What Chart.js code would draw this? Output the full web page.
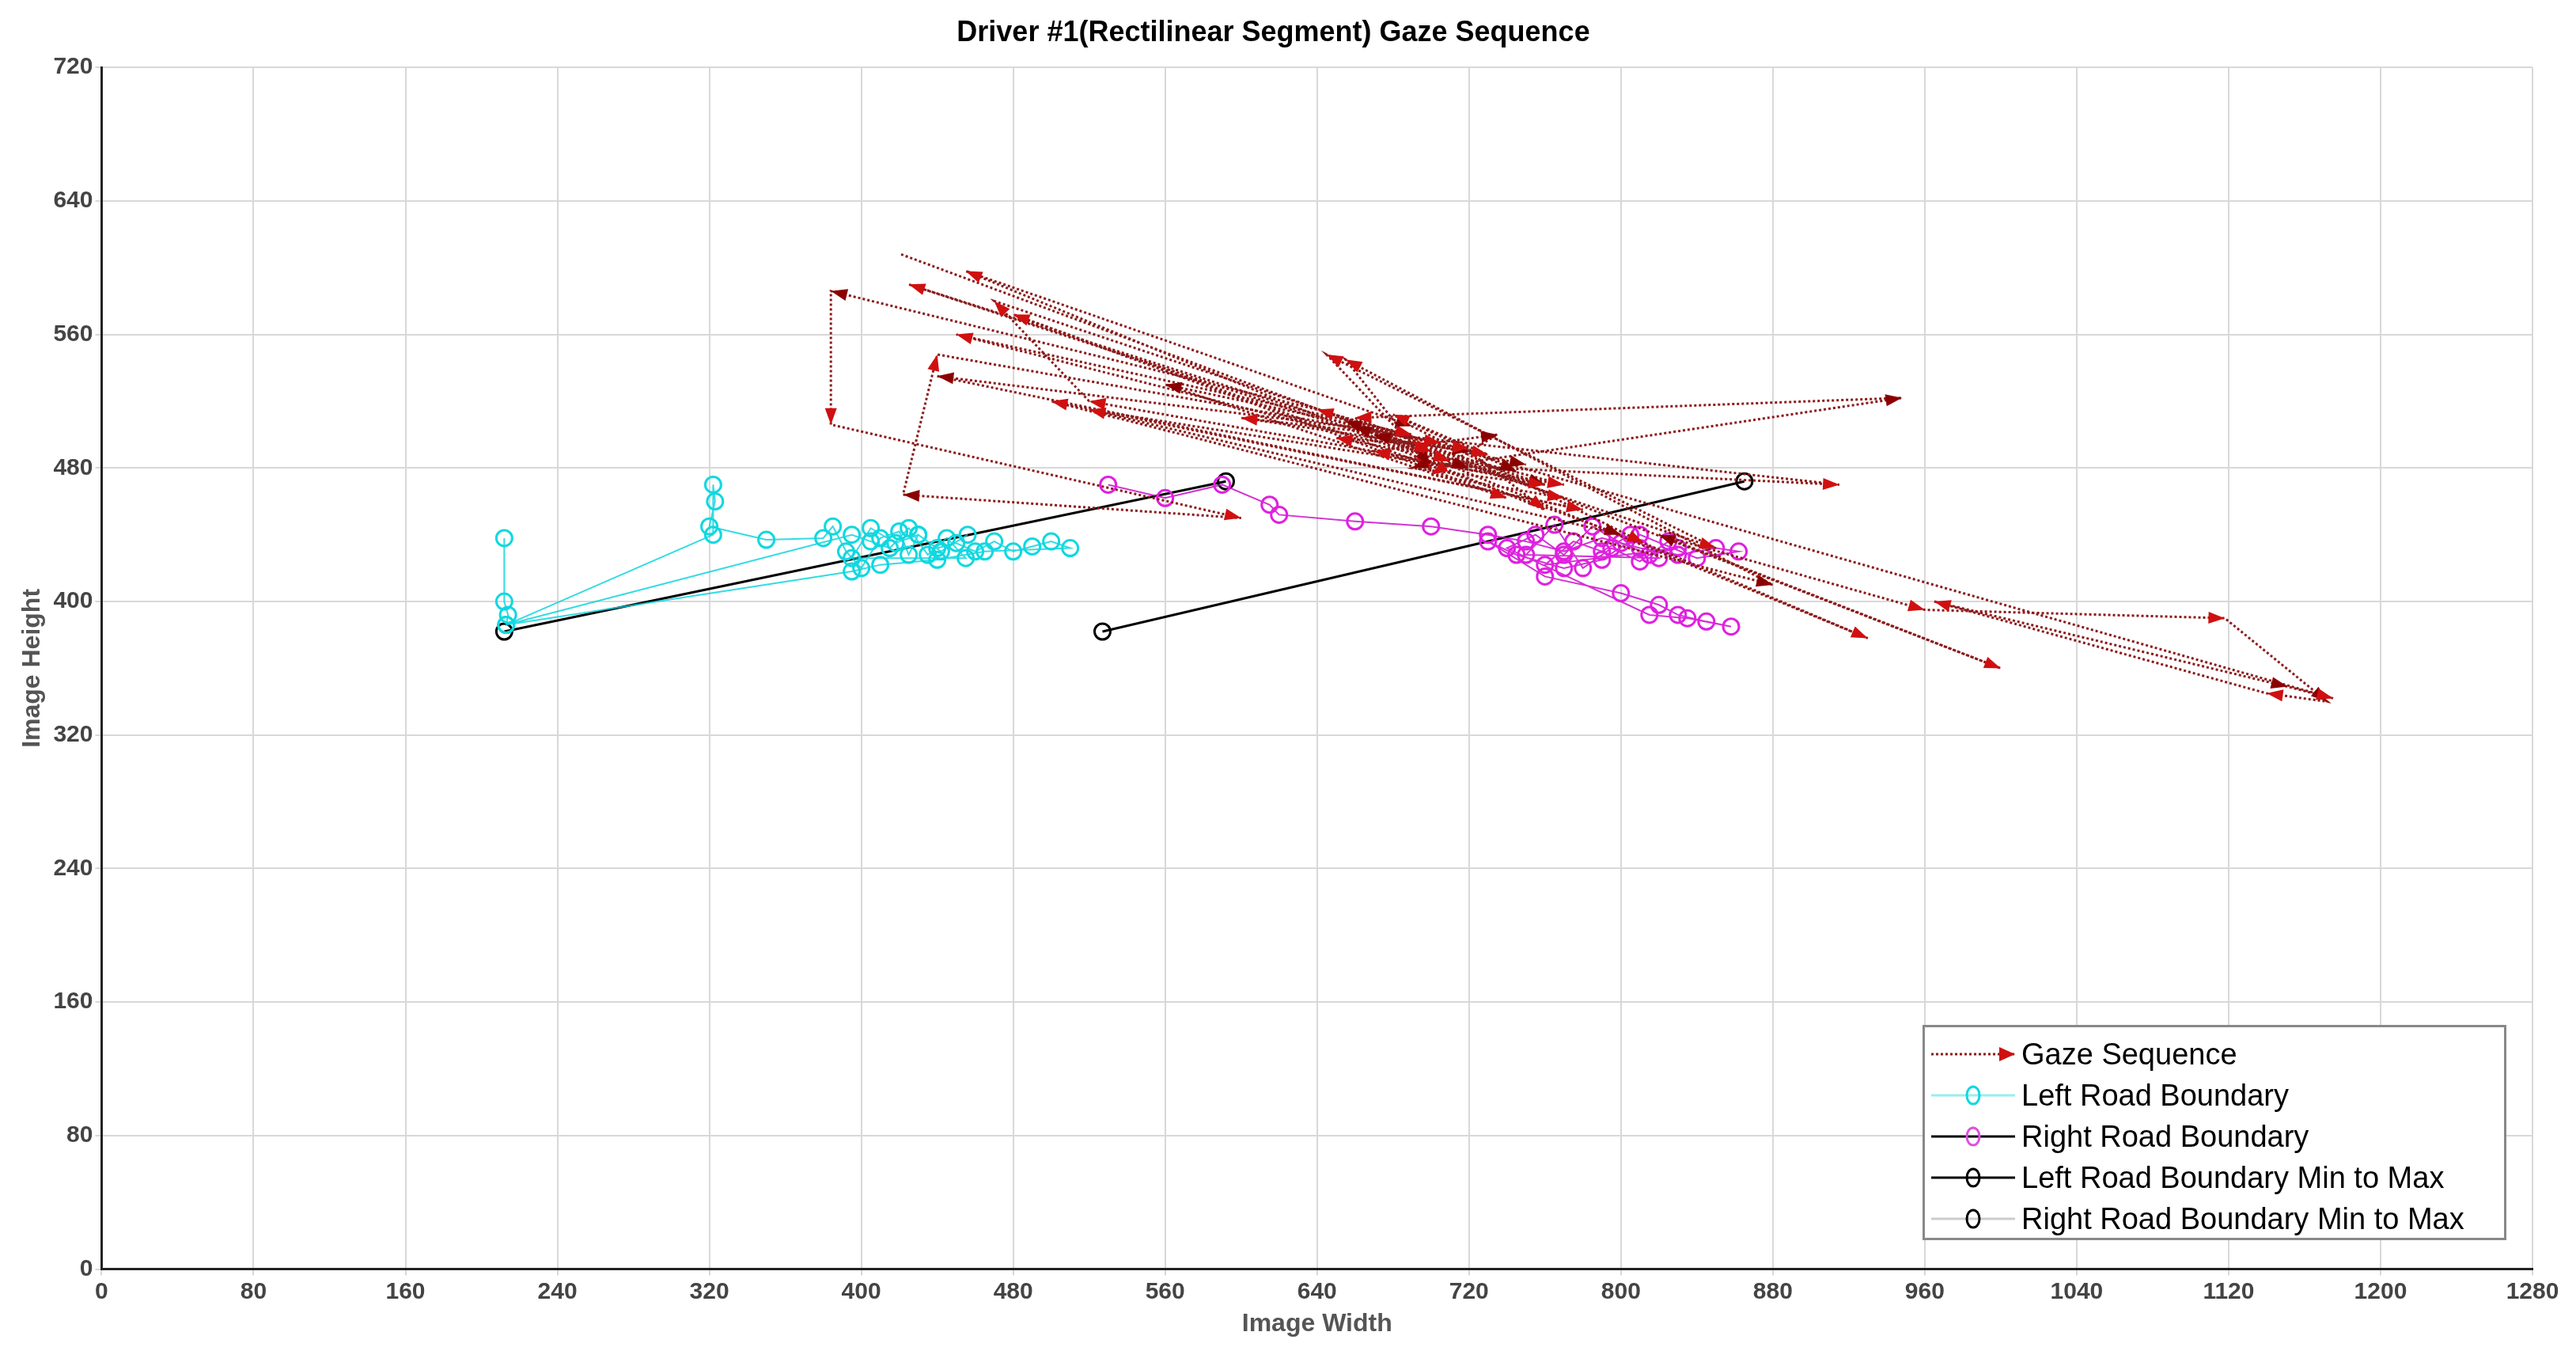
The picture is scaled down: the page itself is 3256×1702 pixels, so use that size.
<!DOCTYPE html>
<html><head><meta charset="utf-8">
<script src="https://cdn.jsdelivr.net/npm/chart.js@4.4.0/dist/chart.umd.min.js"></script>
<style>
body{margin:0;background:#fff;font-family:"Liberation Sans",Arial,sans-serif}
#wrap{position:relative;width:3256px;height:1702px}
#legend{position:absolute;left:2430px;top:1295px;width:738px;height:272px;border:3px solid #888;background:#fff;font-size:38px;color:#000;padding-top:8px;box-sizing:border-box}
#legend div{height:52px;display:flex;align-items:center}
#legend canvas{margin:0 6px 0 6px}
</style></head><body>
<div id="wrap"><canvas id="myChart" width="3256" height="1702"></canvas>
<div id="legend"></div></div>
<script>
// gaze sequence (image coords)
var gazeX = [421, 700, 425, 720, 520, 470, 760, 450, 690, 440, 780, 500, 880, 655, 700, 948, 660, 1000, 820, 960, 1118, 1172, 1140, 965, 1151, 1175,
  640, 384, 384, 600, 422, 440, 705, 560, 740, 480, 800, 520, 770, 670, 850, 645, 700, 915, 600, 720, 760, 455, 690, 812, 930,
  660, 730, 680, 745, 650, 720, 690, 760, 670, 735, 700, 770, 655, 710, 690, 750];
var gazeY = [608, 490, 590, 480, 520, 580, 470, 560, 500, 535, 455, 520, 410, 545, 480, 522, 510, 360, 440, 395, 390, 340, 345, 400, 349, 342,
  515, 586, 506, 450, 464, 548, 495, 530, 462, 572, 440, 515, 470, 500, 432, 548, 482, 470, 510, 490, 455, 598, 505, 435, 378,
  505, 488, 512, 478, 498, 492, 480, 470, 490, 500, 476, 462, 508, 484, 496, 482];
var leftX = [212, 212, 214, 213, 322, 322, 323, 320, 350, 380, 385, 392, 400, 410, 420, 425, 430, 440, 450, 460, 470, 480, 490, 500, 510, 465, 440, 410, 395, 213,
  395, 405, 415, 425, 435, 445, 455, 395, 405, 418, 430, 442, 456];
var leftY = [438, 400, 392, 386, 440, 470, 460, 445, 437, 438, 445, 430, 420, 438, 442, 428, 440, 432, 435, 430, 436, 430, 433, 436, 432, 430, 425, 422, 418, 386,
  440, 436, 432, 444, 428, 438, 426, 426, 444, 435, 440, 430, 440];
var rightX = [530, 560, 590, 615, 620, 660, 700, 730, 750, 770, 790, 810, 830, 850, 862, 840, 810, 790, 770, 745, 730, 760, 800, 820, 830, 845, 858, 835, 815,
  740, 755, 770, 785, 800, 815, 830, 760, 775, 790, 805, 820, 750, 765, 780, 795, 810, 825];
var rightY = [470, 462, 470, 458, 452, 448, 445, 440, 436, 430, 438, 432, 428, 432, 430, 426, 440, 425, 420, 428, 436, 415, 405, 398, 392, 388, 385, 390, 392,
  432, 440, 428, 445, 435, 428, 432, 422, 436, 430, 440, 426, 428, 446, 420, 432, 424, 436];
var lminX = [212, 592], lminY = [382, 472];
var rminX = [527, 865], rminY = [382, 472];
var xTicks = [0, 80, 160, 240, 320, 400, 480, 560, 640, 720, 800, 880, 960, 1040, 1120, 1200, 1280];

function pts(xs, ys) { return xs.map(function (x, i) { return {x: x, y: ys[i]}; }); }

var arrows = {
  id: 'arrows',
  afterDatasetsDraw: function (chart) {
    var meta = chart.getDatasetMeta(0), c = chart.ctx;
    c.save();
    for (var i = 1; i < meta.data.length; i++) {
      var a = meta.data[i - 1], b = meta.data[i];
      var ang = Math.atan2(b.y - a.y, b.x - a.x);
      c.fillStyle = i % 3 ? '#d01010' : '#8b0000';
      c.beginPath();
      c.moveTo(b.x, b.y);
      c.lineTo(b.x - 22 * Math.cos(ang - 0.35), b.y - 22 * Math.sin(ang - 0.35));
      c.lineTo(b.x - 22 * Math.cos(ang + 0.35), b.y - 22 * Math.sin(ang + 0.35));
      c.closePath();
      c.fill();
    }
    c.restore();
  }
};

var tickFont = {size: 30, weight: 'bold', family: 'Liberation Sans'};
var ctx = document.getElementById('myChart').getContext('2d');
var myChart = new Chart(ctx, {
  type: 'scatter',
  data: {
    datasets: [{
      label: 'Gaze Sequence', data: pts(gazeX, gazeY), showLine: true,
      borderColor: '#8b1a1a', borderWidth: 3, borderDash: [3, 3], pointRadius: 0
    }, {
      label: 'Left Road Boundary', data: pts(leftX, leftY), showLine: true,
      borderColor: 'rgba(0,210,220,0.8)', borderWidth: 2, pointRadius: 10, pointBorderWidth: 3,
      pointBorderColor: '#10d8e0', pointBackgroundColor: 'rgba(0,0,0,0)'
    }, {
      label: 'Right Road Boundary', data: pts(rightX, rightY), showLine: true,
      borderColor: 'rgba(200,0,200,0.8)', borderWidth: 2, pointRadius: 10, pointBorderWidth: 3,
      pointBorderColor: '#e020e0', pointBackgroundColor: 'rgba(0,0,0,0)'
    }, {
      label: 'Left Road Boundary Min to Max', data: pts(lminX, lminY), showLine: true,
      borderColor: '#000', borderWidth: 3, pointRadius: 10, pointBorderWidth: 3,
      pointBorderColor: '#000', pointBackgroundColor: 'rgba(0,0,0,0)'
    }, {
      label: 'Right Road Boundary Min to Max', data: pts(rminX, rminY), showLine: true,
      borderColor: '#000', borderWidth: 3, pointRadius: 10, pointBorderWidth: 3,
      pointBorderColor: '#000', pointBackgroundColor: 'rgba(0,0,0,0)'
    }]
  },
  plugins: [arrows],
  options: {
    responsive: false, animation: false,
    layout: {padding: {left: 18, right: 55, top: 10, bottom: 10}},
    plugins: {
      legend: {display: false}, tooltip: {enabled: false},
      title: {display: true, text: 'Driver #1(Rectilinear Segment) Gaze Sequence',
        color: '#000', font: {size: 36, weight: 'bold', family: 'Liberation Sans'}, padding: {top: 10, bottom: 22}}
    },
    scales: {
      x: {
        min: 0, max: 1280,
        afterBuildTicks: function (ax) { ax.ticks = xTicks.map(function (v) { return {value: v}; }); },
        grid: {color: '#d8d8d8', lineWidth: 2},
        border: {color: '#222', width: 3},
        ticks: {color: '#444', font: tickFont, maxRotation: 0, autoSkip: false, callback: function (v) { return String(v); }},
        title: {display: true, text: 'Image Width', color: '#555', font: {size: 32, weight: 'bold', family: 'Liberation Sans'}, padding: 0}
      },
      y: {
        min: 0, max: 720,
        ticks: {stepSize: 80, color: '#444', font: tickFont},
        grid: {color: '#d8d8d8', lineWidth: 2},
        border: {color: '#222', width: 3},
        title: {display: true, text: 'Image Height', color: '#555', font: {size: 32, weight: 'bold', family: 'Liberation Sans'}, padding: 4}
      }
    }
  }
});

// legend box
var legItems = [
  {t: 'Gaze Sequence', line: '#8b1a1a', dash: [3, 3], mk: null},
  {t: 'Left Road Boundary', line: '#9ee', mk: '#10d8e0'},
  {t: 'Right Road Boundary', line: '#000', mk: '#e050e0'},
  {t: 'Left Road Boundary Min to Max', line: '#000', mk: '#000'},
  {t: 'Right Road Boundary Min to Max', line: '#ccc', mk: '#000'}
];
var leg = document.getElementById('legend');
legItems.forEach(function (it) {
  var row = document.createElement('div');
  var cv = document.createElement('canvas');
  cv.width = 110; cv.height = 40;
  var c = cv.getContext('2d');
  c.strokeStyle = it.line; c.lineWidth = 3;
  if (it.dash) c.setLineDash(it.dash);
  c.beginPath(); c.moveTo(2, 20); c.lineTo(108, 20); c.stroke();
  c.setLineDash([]);
  if (it.mk) {
    c.strokeStyle = it.mk; c.beginPath(); c.ellipse(55, 20, 8, 11, 0, 0, Math.PI * 2); c.stroke();
  } else {
    c.fillStyle = '#d01010'; c.beginPath(); c.moveTo(108, 20); c.lineTo(88, 11); c.lineTo(88, 29); c.fill();
  }
  row.appendChild(cv);
  var s = document.createElement('span'); s.textContent = it.t;
  row.appendChild(s);
  leg.appendChild(row);
});
</script>
</body></html>
